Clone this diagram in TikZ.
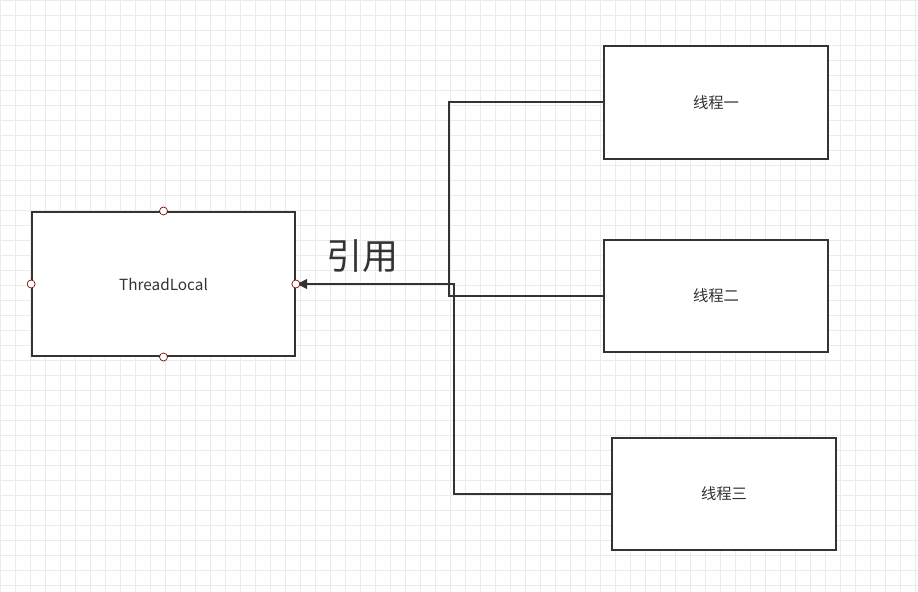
\documentclass[tikz,border=0pt]{standalone}
\usepackage{fontspec}
\setmainfont{Noto Sans CJK SC}
\usetikzlibrary{arrows.meta}
\begin{document}
\begin{tikzpicture}[x=0.75pt,y=-0.75pt,
  box/.style={draw=black!80,line width=1.5pt,fill=white,minimum width=168pt,minimum height=84pt,inner sep=0pt,font=\fontsize{11.5}{13}\selectfont,text=black!80},
  wire/.style={draw=black!80,line width=1.5pt},
  port/.style={circle,draw=red!50!black,fill=white,inner sep=0pt,minimum size=6pt,line width=0.5pt}]
\useasboundingbox (0,0) rectangle (918,592);
\fill[white] (0,0) rectangle (918,592);
\draw[black!8,line width=0.5pt,step=11.25pt] (0pt,-444pt) grid (688.5pt,0pt);
\node[box,minimum width=197pt,minimum height=108pt] (tl) at (163.5,284) {ThreadLocal};
\node[box] (t1) at (716,102.5) {线程一};
\node[box] (t2) at (716,296) {线程二};
\node[box] (t3) at (724,494) {线程三};
\coordinate (a) at (295,284);
\draw[wire] (t1.west) -- (449,102.5) -- (449,284) -- (a);
\draw[wire] (t2.west) -- (449,296) -- (449,284);
\draw[wire,-{Latex[length=9pt,width=8pt]}] (t3.west) -- (454,494) -- (454,284) -- (a);
\node[font=\fontsize{27}{30}\selectfont,text=black!80] (lab) at (362,256) {引用};
\node[port] (p1) at (tl.north) {};
\node[port] (p2) at (tl.south) {};
\node[port] (p3) at (tl.west) {};
\node[port] (p4) at (tl.east) {};
\end{tikzpicture}
\end{document}
